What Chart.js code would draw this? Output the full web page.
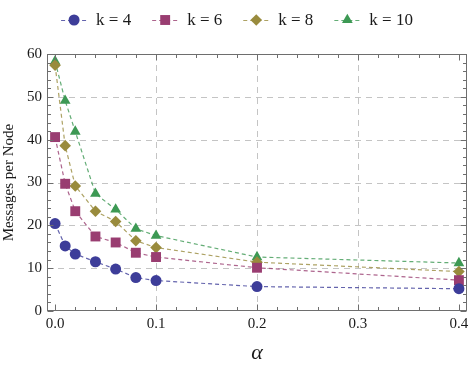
<!DOCTYPE html>
<html><head><meta charset="utf-8">
<script src="https://cdn.jsdelivr.net/npm/chart.js@4.4.0/dist/chart.umd.min.js"></script>
<style>html,body{margin:0;padding:0;background:#fff;}#wrap{width:474px;height:366px;}</style>
</head><body><div id="wrap"><canvas id="c" width="474" height="366"></canvas></div>
<script>
// ---- data ----
const alphaValues = [0, 0.01, 0.02, 0.04, 0.06, 0.08, 0.1, 0.2, 0.4];
const k4  = [20.4, 15.2, 13.3, 11.5, 9.8, 7.8, 7.1, 5.7, 5.2];
const k6  = [40.6, 29.7, 23.3, 17.4, 16.0, 13.6, 12.6, 10.1, 7.2];
const k8  = [57.4, 38.6, 29.2, 23.3, 20.9, 16.4, 14.8, 11.4, 9.2];
const k10 = [58.3, 49.1, 41.9, 27.4, 23.7, 19.2, 17.6, 12.6, 11.2];
const seriesLabels = ['k = 4', 'k = 6', 'k = 8', 'k = 10'];
const xTickValues = [0, 0.1, 0.2, 0.3, 0.4];
const xGridValues = [0.1, 0.2, 0.3];
const yTickValues = [0, 10, 20, 30, 40, 50, 60];
const yGridValues = [10, 20, 30, 40, 50];
const xMinorStep = 0.02;
const yMinorStep = 2;

// ---- styles ----
const SERIF = "'Liberation Serif','DejaVu Serif',serif";
const styles = [
  {fill: 'rgb(61,61,153)',  line: 'rgba(61,61,153,0.8)',  shape: 'circle',   r: 5.5},
  {fill: 'rgb(153,61,113)', line: 'rgba(153,61,113,0.8)', shape: 'rect',     r: 7},
  {fill: 'rgb(153,139,61)', line: 'rgba(153,139,61,0.8)', shape: 'rectRot',  r: 5.8},
  {fill: 'rgb(61,153,84)',  line: 'rgba(61,153,84,0.8)',  shape: 'triangle', r: 6.2}
];
const seriesValues = [k4, k6, k8, k10];

const datasets = seriesValues.map((vals, i) => ({
  label: seriesLabels[i],
  data: alphaValues.map((a, j) => ({x: a, y: vals[j]})),
  borderColor: styles[i].line,
  borderWidth: 1.2,
  borderDash: [4, 3],
  backgroundColor: styles[i].fill,
  pointBackgroundColor: styles[i].fill,
  pointBorderWidth: 0,
  pointStyle: styles[i].shape,
  pointRadius: styles[i].r,
  pointHoverRadius: styles[i].r,
  tension: 0,
  fill: false,
  clip: false
}));

function drawMarker(ctx, shape, r, x, y, color) {
  ctx.save();
  ctx.fillStyle = color;
  ctx.beginPath();
  if (shape === 'circle') {
    ctx.arc(x, y, r, 0, Math.PI * 2);
  } else if (shape === 'rect') {
    const s = Math.SQRT1_2 * r;
    ctx.rect(x - s, y - s, 2 * s, 2 * s);
  } else if (shape === 'rectRot') {
    ctx.moveTo(x - r, y); ctx.lineTo(x, y - r); ctx.lineTo(x + r, y); ctx.lineTo(x, y + r);
    ctx.closePath();
  } else if (shape === 'triangle') {
    let rad = 0;
    ctx.moveTo(x + Math.sin(rad) * r, y - Math.cos(rad) * r);
    rad += 2 * Math.PI / 3;
    ctx.lineTo(x + Math.sin(rad) * r, y - Math.cos(rad) * r);
    rad += 2 * Math.PI / 3;
    ctx.lineTo(x + Math.sin(rad) * r, y - Math.cos(rad) * r);
    ctx.closePath();
  }
  ctx.fill();
  ctx.restore();
}

const framePlugin = {
  id: 'frame',
  beforeDatasetsDraw(chart) {
    const {ctx, chartArea: ca, scales: {x, y}} = chart;
    ctx.save();
    ctx.strokeStyle = '#c4c4c4';
    ctx.lineWidth = 1;
    ctx.setLineDash([6, 5]);
    xGridValues.forEach(v => {
      const px = Math.round(x.getPixelForValue(v)) + 0.5;
      ctx.beginPath(); ctx.moveTo(px, ca.top); ctx.lineTo(px, ca.bottom); ctx.stroke();
    });
    yGridValues.forEach(v => {
      const py = Math.round(y.getPixelForValue(v)) + 0.5;
      ctx.beginPath(); ctx.moveTo(ca.left, py); ctx.lineTo(ca.right, py); ctx.stroke();
    });
    ctx.restore();
  },
  afterDatasetsDraw(chart) {
    const {ctx, chartArea: ca, scales: {x, y}} = chart;
    ctx.save();
    ctx.strokeStyle = '#6e6e6e';
    ctx.lineWidth = 1;
    ctx.setLineDash([]);
    const L = Math.round(ca.left) + 0.5, R = Math.round(ca.right) - 0.5;
    const T = Math.round(ca.top) + 0.5, B = Math.round(ca.bottom) - 0.5;
    ctx.strokeRect(L, T, R - L, B - T);
    const isMajor = (v, list) => list.some(t => Math.abs(t - v) < 1e-9);
    // x ticks
    for (let i = 0; i <= Math.round(0.4 / xMinorStep); i++) {
      const v = +(i * xMinorStep).toFixed(4);
      const len = isMajor(v, xTickValues) ? 6 : 3.5;
      const px = Math.round(x.getPixelForValue(v)) + 0.5;
      ctx.beginPath();
      ctx.moveTo(px, B); ctx.lineTo(px, B - len);
      ctx.moveTo(px, T); ctx.lineTo(px, T + len);
      ctx.stroke();
    }
    // y ticks
    for (let i = 0; i <= Math.round(60 / yMinorStep); i++) {
      const v = i * yMinorStep;
      const len = isMajor(v, yTickValues) ? 6 : 3.5;
      const py = Math.round(y.getPixelForValue(v)) + 0.5;
      ctx.beginPath();
      ctx.moveTo(L, py); ctx.lineTo(L + len, py);
      ctx.moveTo(R, py); ctx.lineTo(R - len, py);
      ctx.stroke();
    }
    ctx.restore();
  },
  afterDraw(chart) {
    // legend
    const ctx = chart.ctx;
    ctx.save();
    ctx.font = '17px ' + SERIF;
    ctx.textBaseline = 'middle';
    ctx.fillStyle = '#1a1a1a';
    const segW = 26, gap1 = 9, gap2 = 21;
    const widths = seriesLabels.map(t => ctx.measureText(t).width);
    let total = 0;
    widths.forEach((w, i) => { total += segW + gap1 + w + (i < widths.length - 1 ? gap2 : 0); });
    let cx = chart.width / 2 - total / 2;
    const ly = 20;
    seriesLabels.forEach((t, i) => {
      ctx.save();
      ctx.strokeStyle = styles[i].line;
      ctx.lineWidth = 1.2;
      ctx.setLineDash([4, 3]);
      ctx.beginPath(); ctx.moveTo(cx, ly + 0.5); ctx.lineTo(cx + segW, ly + 0.5); ctx.stroke();
      ctx.restore();
      drawMarker(ctx, styles[i].shape, styles[i].r, cx + segW / 2, ly, styles[i].fill);
      ctx.fillText(t, cx + segW + gap1, ly + 1);
      cx += segW + gap1 + widths[i] + gap2;
    });
    ctx.restore();
  }
};

new Chart(document.getElementById('c'), {
  type: 'line',
  data: {datasets},
  plugins: [framePlugin],
  options: {
    responsive: false,
    animation: false,
    devicePixelRatio: 1,
    layout: {padding: {left: 0, right: 4, top: 54, bottom: 0}},
    plugins: {legend: {display: false}, tooltip: {enabled: false}},
    scales: {
      x: {
        type: 'linear', min: -0.008, max: 0.408,
        afterBuildTicks: s => { s.ticks = xTickValues.map(v => ({value: v})); },
        afterFit: s => { s.height = 55; },
        grid: {display: false, drawTicks: false},
        border: {display: false},
        ticks: {
          autoSkip: false, maxRotation: 0, padding: 4,
          color: '#1a1a1a', font: {family: SERIF, size: 15},
          callback: v => Number(v).toFixed(1)
        },
        title: {display: true, text: 'α', color: '#1a1a1a',
          font: {family: SERIF, size: 22, style: 'italic'}, padding: {top: 0, bottom: 0}}
      },
      y: {
        type: 'linear', min: 0, max: 60,
        afterBuildTicks: s => { s.ticks = yTickValues.map(v => ({value: v})); },
        afterFit: s => { s.width = 47; },
        grid: {display: false, drawTicks: false},
        border: {display: false},
        ticks: {
          autoSkip: false, padding: 5,
          color: '#1a1a1a', font: {family: SERIF, size: 15}
        },
        title: {display: true, text: 'Messages per Node', color: '#1a1a1a',
          font: {family: SERIF, size: 15}, padding: {top: 0, bottom: 0}}
      }
    }
  }
});
</script>
</body></html>
